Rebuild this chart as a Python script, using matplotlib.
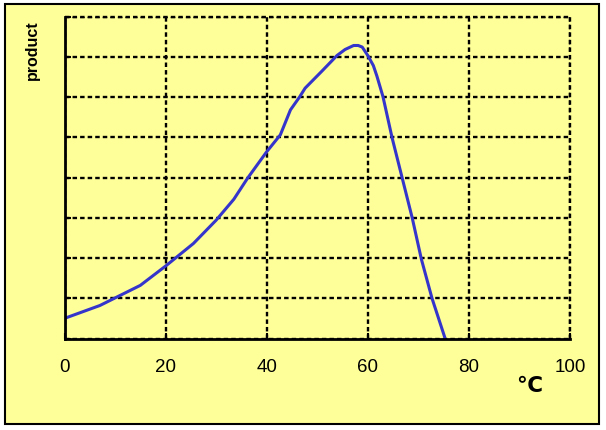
import matplotlib
matplotlib.use("Agg")
import matplotlib.pyplot as plt
from matplotlib.patches import Rectangle

# Data
temperature = [0, 7, 15, 20, 25.5, 30, 33.5, 36.2, 40, 42.7, 44.7, 46.5, 47.6,
               50.9, 53.9, 55.5, 57.2, 58.1, 58.9, 60.0, 61.1, 61.8, 63.0,
               64.8, 66.8, 68.8, 70.6, 72.7, 75.3]
product = [0.50, 0.82, 1.32, 1.80, 2.36, 2.94, 3.46, 3.98, 4.64, 5.06, 5.68,
           6.00, 6.22, 6.64, 7.03, 7.18, 7.28, 7.28, 7.24, 7.03, 6.78, 6.52,
           6.01, 4.99, 3.99, 2.99, 1.97, 1.00, 0.00]
x_ticks = [0, 20, 40, 60, 80, 100]
y_ticks = [0, 1, 2, 3, 4, 5, 6, 7, 8]

W, H = 606, 431
fig = plt.figure(figsize=(W / 100, H / 100), dpi=100)
fig.patch.set_facecolor("white")

# Yellow framed background
bg = Rectangle((5 / W, 1 - 425 / H), 594 / W, 420 / H,
               transform=fig.transFigure, facecolor="#FFFF99",
               edgecolor="black", linewidth=1.5, zorder=-10)
fig.patches.append(bg)

ax = fig.add_axes([64.5 / W, 1 - 339.5 / H, (570 - 64.5) / W, (339.5 - 17.5) / H])
ax.set_facecolor("none")
ax.set_zorder(1)

ax.plot(temperature, product, color="#3535CC", linewidth=2.2, zorder=3,
        solid_joinstyle="round", solid_capstyle="butt")

ax.set_xlim(0, 100)
ax.set_ylim(0, 8)
ax.set_xticks(x_ticks)
ax.set_yticks(y_ticks)
ax.set_yticklabels([])

for s in ["top", "right"]:
    ax.spines[s].set_visible(False)
for s in ["left", "bottom"]:
    ax.spines[s].set_linewidth(2)
    ax.spines[s].set_zorder(4)

dash = (0, (1.9, 1.3))
glw = 1.7
ax.grid(True, color="black", linewidth=glw, linestyle=dash, zorder=1)
ax.set_axisbelow(True)
ax.axhline(8, color="black", linewidth=glw, linestyle=dash, clip_on=False)
ax.axvline(100, color="black", linewidth=glw, linestyle=dash, clip_on=False)

ax.tick_params(axis="both", direction="in", length=4, width=1.5, color="black")
ax.tick_params(axis="x", pad=14, labelsize=13.5)
for lbl in ax.get_xticklabels():
    lbl.set_family(["Liberation Sans", "DejaVu Sans"])

fig.text(32 / W, 1 - 50 / H, "product", rotation=90, ha="center", va="center",
         fontsize=11.5, fontweight="bold", family=["Liberation Sans", "DejaVu Sans"])
fig.text(529 / W, 1 - 387 / H, "℃", ha="center", va="center",
         fontsize=15.5, fontweight="bold", family=["Liberation Sans", "DejaVu Sans"])

fig.savefig("out.png", dpi=100)
